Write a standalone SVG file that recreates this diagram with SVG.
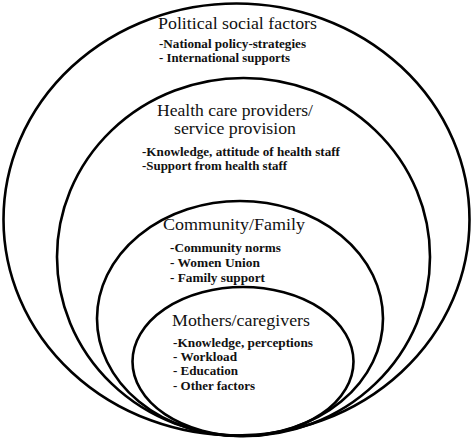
<svg xmlns="http://www.w3.org/2000/svg" width="474" height="439" viewBox="0 0 474 439">
<style>
.ring{fill:none;stroke:#000;stroke-width:2.6}
.h{font-family:"Liberation Serif","Times New Roman",serif;font-size:17.5px;fill:#111}
.h2{font-family:"Liberation Serif","Times New Roman",serif;font-size:16px;fill:#111}
.s{font-family:"Liberation Serif","Times New Roman",serif;font-size:12.5px;font-weight:bold;fill:#111}
</style>
<rect width="474" height="439" fill="#fff"/>
<g id="political">
<ellipse class="ring" cx="236.5" cy="219.5" rx="233" ry="216"/>
<text class="h" x="158" y="29" textLength="159" lengthAdjust="spacingAndGlyphs">Political social factors</text>
<text class="s" x="159" y="48" textLength="147" lengthAdjust="spacingAndGlyphs">-National policy-strategies</text>
<text class="s" x="159" y="62" textLength="131" lengthAdjust="spacingAndGlyphs">- International supports</text>
</g>
<g id="health">
<ellipse class="ring" cx="243.5" cy="257" rx="186.5" ry="179"/>
<text class="h2" x="157" y="116" textLength="156" lengthAdjust="spacingAndGlyphs">Health care providers/</text>
<text class="h2" x="174" y="134" textLength="122" lengthAdjust="spacingAndGlyphs">service provision</text>
<text class="s" x="142" y="156" textLength="198" lengthAdjust="spacingAndGlyphs">-Knowledge, attitude of health staff</text>
<text class="s" x="142" y="170" textLength="145" lengthAdjust="spacingAndGlyphs">-Support from health staff</text>
</g>
<g id="community">
<ellipse class="ring" cx="240" cy="318.5" rx="143" ry="117.5"/>
<text class="h" x="163" y="230" textLength="142" lengthAdjust="spacingAndGlyphs">Community/Family</text>
<text class="s" x="170" y="252" textLength="111" lengthAdjust="spacingAndGlyphs">-Community norms</text>
<text class="s" x="170" y="267" textLength="90" lengthAdjust="spacingAndGlyphs">- Women Union</text>
<text class="s" x="170" y="282" textLength="95" lengthAdjust="spacingAndGlyphs">- Family support</text>
</g>
<g id="mothers">
<ellipse class="ring" cx="243" cy="361.5" rx="110.5" ry="74.5"/>
<text class="h" x="172" y="326" textLength="138" lengthAdjust="spacingAndGlyphs">Mothers/caregivers</text>
<text class="s" x="173" y="347" textLength="140" lengthAdjust="spacingAndGlyphs">-Knowledge, perceptions</text>
<text class="s" x="173" y="361" textLength="64" lengthAdjust="spacingAndGlyphs">- Workload</text>
<text class="s" x="173" y="375" textLength="65" lengthAdjust="spacingAndGlyphs">- Education</text>
<text class="s" x="173" y="390" textLength="82" lengthAdjust="spacingAndGlyphs">- Other factors</text>
</g>
<g id="connectors"/>
</svg>
